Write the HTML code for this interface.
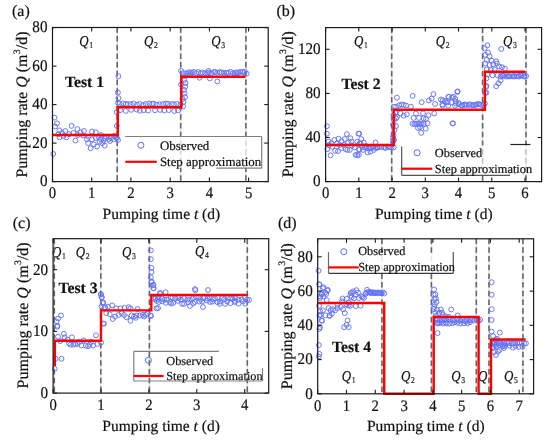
<!DOCTYPE html>
<html><head><meta charset="utf-8"><style>
html,body{margin:0;padding:0;background:#fff;}
svg{display:block;}
text{font-family:"Liberation Serif", "Times New Roman", serif;fill:#111;stroke:#111;stroke-width:0.2px;text-rendering:geometricPrecision;}
.b{font-weight:bold;}
</style></head><body>
<svg width="550" height="445" viewBox="0 0 550 445"><text transform="translate(79.20,46.10) scale(0.86,1)" font-size="15"><tspan font-style="italic">Q</tspan><tspan font-size="9" dx="0.8" dy="2" fill="#333">1</tspan></text>
<text transform="translate(143.90,46.00) scale(0.86,1)" font-size="15"><tspan font-style="italic">Q</tspan><tspan font-size="9" dx="0.8" dy="2" fill="#333">2</tspan></text>
<text transform="translate(211.20,46.00) scale(0.86,1)" font-size="15"><tspan font-style="italic">Q</tspan><tspan font-size="9" dx="0.8" dy="2" fill="#333">3</tspan></text>
<text transform="translate(353.90,45.50) scale(0.86,1)" font-size="15"><tspan font-style="italic">Q</tspan><tspan font-size="9" dx="0.8" dy="2" fill="#333">1</tspan></text>
<text transform="translate(435.80,45.50) scale(0.86,1)" font-size="15"><tspan font-style="italic">Q</tspan><tspan font-size="9" dx="0.8" dy="2" fill="#333">2</tspan></text>
<text transform="translate(503.00,45.50) scale(0.86,1)" font-size="15"><tspan font-style="italic">Q</tspan><tspan font-size="9" dx="0.8" dy="2" fill="#333">3</tspan></text>
<text transform="translate(52.10,257.30) scale(0.86,1)" font-size="15"><tspan font-style="italic">Q</tspan><tspan font-size="9" dx="0.8" dy="2" fill="#333">1</tspan></text>
<text transform="translate(75.80,257.30) scale(0.86,1)" font-size="15"><tspan font-style="italic">Q</tspan><tspan font-size="9" dx="0.8" dy="2" fill="#333">2</tspan></text>
<text transform="translate(122.10,257.30) scale(0.86,1)" font-size="15"><tspan font-style="italic">Q</tspan><tspan font-size="9" dx="0.8" dy="2" fill="#333">3</tspan></text>
<text transform="translate(194.90,255.50) scale(0.86,1)" font-size="15"><tspan font-style="italic">Q</tspan><tspan font-size="9" dx="0.8" dy="2" fill="#333">4</tspan></text>
<text transform="translate(341.80,380.50) scale(0.86,1)" font-size="15"><tspan font-style="italic">Q</tspan><tspan font-size="9" dx="0.8" dy="2" fill="#333">1</tspan></text>
<text transform="translate(400.90,380.50) scale(0.86,1)" font-size="15"><tspan font-style="italic">Q</tspan><tspan font-size="9" dx="0.8" dy="2" fill="#333">2</tspan></text>
<text transform="translate(451.20,380.50) scale(0.86,1)" font-size="15"><tspan font-style="italic">Q</tspan><tspan font-size="9" dx="0.8" dy="2" fill="#333">3</tspan></text>
<text transform="translate(477.90,380.50) scale(0.86,1)" font-size="15"><tspan font-style="italic">Q</tspan><tspan font-size="9" dx="0.8" dy="2" fill="#333">4</tspan></text>
<text transform="translate(503.90,380.50) scale(0.86,1)" font-size="15"><tspan font-style="italic">Q</tspan><tspan font-size="9" dx="0.8" dy="2" fill="#333">5</tspan></text>
<line x1="117.2" y1="27.5" x2="117.2" y2="181.6" stroke="#e2e2e2" stroke-width="1.5"/>
<line x1="117.2" y1="27.5" x2="117.2" y2="181.6" stroke="#666" stroke-width="1.6" stroke-dasharray="5.5,3.2" stroke-dashoffset="-8.5"/>
<line x1="180.7" y1="27.5" x2="180.7" y2="181.6" stroke="#e2e2e2" stroke-width="1.5"/>
<line x1="180.7" y1="27.5" x2="180.7" y2="181.6" stroke="#666" stroke-width="1.6" stroke-dasharray="5.5,3.2" stroke-dashoffset="-8.5"/>
<line x1="245.9" y1="27.5" x2="245.9" y2="181.6" stroke="#e2e2e2" stroke-width="1.5"/>
<line x1="245.9" y1="27.5" x2="245.9" y2="181.6" stroke="#666" stroke-width="1.6" stroke-dasharray="5.5,3.2" stroke-dashoffset="-8.5"/>
<g fill="none" stroke="#6273f7" stroke-width="0.95"><circle cx="117" cy="138" r="2.45"/><circle cx="118" cy="140" r="2.45"/><circle cx="118.4" cy="76.2" r="2.45"/><circle cx="117.9" cy="92.5" r="2.45"/><circle cx="118.4" cy="98.1" r="2.45"/><circle cx="117.9" cy="102.6" r="2.45"/><circle cx="116.7" cy="112.1" r="2.45"/><circle cx="119.7" cy="103.6" r="2.45"/><circle cx="123.1" cy="103.5" r="2.45"/><circle cx="125.8" cy="104.0" r="2.45"/><circle cx="127.9" cy="104.2" r="2.45"/><circle cx="130.7" cy="104.1" r="2.45"/><circle cx="133.6" cy="103.5" r="2.45"/><circle cx="137.0" cy="104.7" r="2.45"/><circle cx="139.4" cy="103.8" r="2.45"/><circle cx="143.1" cy="104.9" r="2.45"/><circle cx="145.8" cy="104.0" r="2.45"/><circle cx="149.3" cy="103.5" r="2.45"/><circle cx="152.0" cy="103.9" r="2.45"/><circle cx="153.7" cy="103.6" r="2.45"/><circle cx="156.8" cy="104.7" r="2.45"/><circle cx="159.5" cy="104.3" r="2.45"/><circle cx="163.1" cy="104.0" r="2.45"/><circle cx="165.8" cy="103.5" r="2.45"/><circle cx="167.9" cy="103.7" r="2.45"/><circle cx="171.7" cy="104.1" r="2.45"/><circle cx="174.0" cy="104.3" r="2.45"/><circle cx="177.1" cy="103.9" r="2.45"/><circle cx="180.5" cy="104.5" r="2.45"/><circle cx="120.2" cy="110.3" r="2.45"/><circle cx="125.8" cy="110.9" r="2.45"/><circle cx="131.2" cy="109.8" r="2.45"/><circle cx="136.7" cy="109.5" r="2.45"/><circle cx="139.8" cy="110.7" r="2.45"/><circle cx="143.7" cy="110.2" r="2.45"/><circle cx="148.1" cy="110.5" r="2.45"/><circle cx="155.0" cy="110.3" r="2.45"/><circle cx="160.1" cy="109.9" r="2.45"/><circle cx="164.3" cy="110.4" r="2.45"/><circle cx="168.7" cy="110.1" r="2.45"/><circle cx="174.3" cy="111.0" r="2.45"/><circle cx="177.9" cy="110.5" r="2.45"/><circle cx="181.1" cy="70.9" r="2.45"/><circle cx="184.5" cy="79.8" r="2.45"/><circle cx="185.2" cy="86.6" r="2.45"/><circle cx="184.5" cy="93.4" r="2.45"/><circle cx="182.5" cy="98.9" r="2.45"/><circle cx="183.2" cy="106.4" r="2.45"/><circle cx="181" cy="84.5" r="2.45"/><circle cx="183.5" cy="73.0" r="2.45"/><circle cx="186.3" cy="73.5" r="2.45"/><circle cx="188.6" cy="72.2" r="2.45"/><circle cx="190.2" cy="72.9" r="2.45"/><circle cx="191.8" cy="72.5" r="2.45"/><circle cx="194.1" cy="71.9" r="2.45"/><circle cx="196.1" cy="73.1" r="2.45"/><circle cx="198.3" cy="72.1" r="2.45"/><circle cx="200.7" cy="73.3" r="2.45"/><circle cx="202.4" cy="72.5" r="2.45"/><circle cx="205.1" cy="73.3" r="2.45"/><circle cx="207.5" cy="73.3" r="2.45"/><circle cx="209.0" cy="72.4" r="2.45"/><circle cx="211.2" cy="73.3" r="2.45"/><circle cx="214.0" cy="72.0" r="2.45"/><circle cx="215.2" cy="72.1" r="2.45"/><circle cx="217.3" cy="72.6" r="2.45"/><circle cx="219.9" cy="72.2" r="2.45"/><circle cx="221.3" cy="72.5" r="2.45"/><circle cx="223.8" cy="72.7" r="2.45"/><circle cx="226.6" cy="72.9" r="2.45"/><circle cx="228.2" cy="72.8" r="2.45"/><circle cx="230.5" cy="71.8" r="2.45"/><circle cx="232.9" cy="73.1" r="2.45"/><circle cx="234.9" cy="73.1" r="2.45"/><circle cx="236.5" cy="72.4" r="2.45"/><circle cx="238.2" cy="72.8" r="2.45"/><circle cx="240.3" cy="71.8" r="2.45"/><circle cx="242.5" cy="72.0" r="2.45"/><circle cx="244.8" cy="71.8" r="2.45"/><circle cx="199.5" cy="77.7" r="2.45"/><circle cx="209.8" cy="78.4" r="2.45"/><circle cx="217.3" cy="81.5" r="2.45"/><circle cx="208.4" cy="70.9" r="2.45"/><circle cx="246.6" cy="73.6" r="2.45"/><circle cx="190" cy="75" r="2.45"/><circle cx="225" cy="75.5" r="2.45"/><circle cx="235" cy="75" r="2.45"/><circle cx="241" cy="74.5" r="2.45"/><circle cx="54.5" cy="117.6" r="2.45"/><circle cx="57" cy="123.4" r="2.45"/><circle cx="55.1" cy="126.5" r="2.45"/><circle cx="59.5" cy="130.4" r="2.45"/><circle cx="58.3" cy="134.2" r="2.45"/><circle cx="59.5" cy="137.4" r="2.45"/><circle cx="65.3" cy="131" r="2.45"/><circle cx="66.5" cy="137.4" r="2.45"/><circle cx="71.6" cy="125.9" r="2.45"/><circle cx="69.1" cy="134.2" r="2.45"/><circle cx="75.5" cy="140.5" r="2.45"/><circle cx="77.4" cy="129.1" r="2.45"/><circle cx="80.5" cy="132.3" r="2.45"/><circle cx="73.5" cy="132.9" r="2.45"/><circle cx="83.1" cy="135.5" r="2.45"/><circle cx="86.9" cy="139.3" r="2.45"/><circle cx="88.2" cy="143.1" r="2.45"/><circle cx="92" cy="131.6" r="2.45"/><circle cx="95.8" cy="132.3" r="2.45"/><circle cx="90.7" cy="148.2" r="2.45"/><circle cx="93.9" cy="144.4" r="2.45"/><circle cx="95.8" cy="138" r="2.45"/><circle cx="98.4" cy="136.7" r="2.45"/><circle cx="100.9" cy="139.3" r="2.45"/><circle cx="103.5" cy="140.5" r="2.45"/><circle cx="104.7" cy="145.6" r="2.45"/><circle cx="106" cy="136.7" r="2.45"/><circle cx="108.5" cy="139.3" r="2.45"/><circle cx="111.1" cy="138" r="2.45"/><circle cx="113.6" cy="139.3" r="2.45"/><circle cx="116.2" cy="137.4" r="2.45"/><circle cx="99.6" cy="141.8" r="2.45"/><circle cx="102.2" cy="143.1" r="2.45"/><circle cx="88.2" cy="136.7" r="2.45"/><circle cx="92" cy="139.3" r="2.45"/><circle cx="53.2" cy="153.9" r="2.45"/><circle cx="116.8" cy="125.9" r="2.45"/><circle cx="62" cy="133" r="2.45"/><circle cx="63.5" cy="136" r="2.45"/><circle cx="78" cy="135" r="2.45"/><circle cx="84" cy="131" r="2.45"/><circle cx="97" cy="146.5" r="2.45"/><circle cx="110" cy="141" r="2.45"/><circle cx="114" cy="136" r="2.45"/><circle cx="105" cy="138.5" r="2.45"/><circle cx="101" cy="135" r="2.45"/><circle cx="184" cy="90" r="2.45"/><circle cx="185" cy="97" r="2.45"/><circle cx="183.5" cy="102" r="2.45"/><circle cx="185.5" cy="83" r="2.45"/><circle cx="184.8" cy="76" r="2.45"/></g>
<path d="M52.5,135.0 L117.8,135.0 L117.8,107.3 L181.3,107.3 L181.3,76.7 L245.5,76.7" fill="none" stroke="#f00" stroke-width="2.4"/>
<rect x="52.5" y="27.5" width="215.7" height="154.1" fill="none" stroke="#1a1a1a" stroke-width="1.2"/>
<line x1="52.5" y1="181.6" x2="52.5" y2="177.6" stroke="#1a1a1a" stroke-width="1.1"/>
<line x1="52.5" y1="27.5" x2="52.5" y2="31.5" stroke="#1a1a1a" stroke-width="1.1"/>
<text transform="translate(52.50,198.40) scale(0.92,1)" text-anchor="middle" font-size="16">0</text>
<line x1="91.7" y1="181.6" x2="91.7" y2="177.6" stroke="#1a1a1a" stroke-width="1.1"/>
<line x1="91.7" y1="27.5" x2="91.7" y2="31.5" stroke="#1a1a1a" stroke-width="1.1"/>
<text transform="translate(91.72,198.40) scale(0.92,1)" text-anchor="middle" font-size="16">1</text>
<line x1="130.9" y1="181.6" x2="130.9" y2="177.6" stroke="#1a1a1a" stroke-width="1.1"/>
<line x1="130.9" y1="27.5" x2="130.9" y2="31.5" stroke="#1a1a1a" stroke-width="1.1"/>
<text transform="translate(130.94,198.40) scale(0.92,1)" text-anchor="middle" font-size="16">2</text>
<line x1="170.2" y1="181.6" x2="170.2" y2="177.6" stroke="#1a1a1a" stroke-width="1.1"/>
<line x1="170.2" y1="27.5" x2="170.2" y2="31.5" stroke="#1a1a1a" stroke-width="1.1"/>
<text transform="translate(170.16,198.40) scale(0.92,1)" text-anchor="middle" font-size="16">3</text>
<line x1="209.4" y1="181.6" x2="209.4" y2="177.6" stroke="#1a1a1a" stroke-width="1.1"/>
<line x1="209.4" y1="27.5" x2="209.4" y2="31.5" stroke="#1a1a1a" stroke-width="1.1"/>
<text transform="translate(209.38,198.40) scale(0.92,1)" text-anchor="middle" font-size="16">4</text>
<line x1="248.6" y1="181.6" x2="248.6" y2="177.6" stroke="#1a1a1a" stroke-width="1.1"/>
<line x1="248.6" y1="27.5" x2="248.6" y2="31.5" stroke="#1a1a1a" stroke-width="1.1"/>
<text transform="translate(248.60,198.40) scale(0.92,1)" text-anchor="middle" font-size="16">5</text>
<line x1="52.5" y1="181.6" x2="56.5" y2="181.6" stroke="#1a1a1a" stroke-width="1.1"/>
<line x1="268.2" y1="181.6" x2="264.2" y2="181.6" stroke="#1a1a1a" stroke-width="1.1"/>
<text transform="translate(47.50,186.40) scale(0.93,1)" text-anchor="end" font-size="16.3">0</text>
<line x1="52.5" y1="143.1" x2="56.5" y2="143.1" stroke="#1a1a1a" stroke-width="1.1"/>
<line x1="268.2" y1="143.1" x2="264.2" y2="143.1" stroke="#1a1a1a" stroke-width="1.1"/>
<text transform="translate(47.50,147.90) scale(0.93,1)" text-anchor="end" font-size="16.3">20</text>
<line x1="52.5" y1="104.6" x2="56.5" y2="104.6" stroke="#1a1a1a" stroke-width="1.1"/>
<line x1="268.2" y1="104.6" x2="264.2" y2="104.6" stroke="#1a1a1a" stroke-width="1.1"/>
<text transform="translate(47.50,109.40) scale(0.93,1)" text-anchor="end" font-size="16.3">40</text>
<line x1="52.5" y1="66.1" x2="56.5" y2="66.1" stroke="#1a1a1a" stroke-width="1.1"/>
<line x1="268.2" y1="66.1" x2="264.2" y2="66.1" stroke="#1a1a1a" stroke-width="1.1"/>
<text transform="translate(47.50,70.90) scale(0.93,1)" text-anchor="end" font-size="16.3">60</text>
<line x1="52.5" y1="27.6" x2="56.5" y2="27.6" stroke="#1a1a1a" stroke-width="1.1"/>
<line x1="268.2" y1="27.6" x2="264.2" y2="27.6" stroke="#1a1a1a" stroke-width="1.1"/>
<text transform="translate(47.50,32.40) scale(0.93,1)" text-anchor="end" font-size="16.3">80</text>
<text transform="translate(12.00,16.30)" font-size="16">(a)</text>
<line x1="391.7" y1="27.6" x2="391.7" y2="181.6" stroke="#e2e2e2" stroke-width="1.5"/>
<line x1="391.7" y1="27.6" x2="391.7" y2="181.6" stroke="#666" stroke-width="1.6" stroke-dasharray="5.5,3.2" stroke-dashoffset="-8.5"/>
<line x1="482.6" y1="27.6" x2="482.6" y2="181.6" stroke="#e2e2e2" stroke-width="1.5"/>
<line x1="482.6" y1="27.6" x2="482.6" y2="181.6" stroke="#666" stroke-width="1.6" stroke-dasharray="5.5,3.2" stroke-dashoffset="-8.5"/>
<line x1="526.0" y1="27.6" x2="526.0" y2="181.6" stroke="#e2e2e2" stroke-width="1.5"/>
<line x1="526.0" y1="27.6" x2="526.0" y2="181.6" stroke="#666" stroke-width="1.6" stroke-dasharray="5.5,3.2" stroke-dashoffset="-8.5"/>
<g fill="none" stroke="#6273f7" stroke-width="0.95"><circle cx="326.9" cy="126.2" r="2.45"/><circle cx="326.9" cy="133.7" r="2.45"/><circle cx="328.6" cy="141.6" r="2.45"/><circle cx="327.3" cy="149.1" r="2.45"/><circle cx="330.6" cy="155.3" r="2.45"/><circle cx="335.2" cy="150.8" r="2.45"/><circle cx="334.4" cy="140" r="2.45"/><circle cx="332.3" cy="146.6" r="2.45"/><circle cx="338.5" cy="138.7" r="2.45"/><circle cx="341.5" cy="141.2" r="2.45"/><circle cx="336.9" cy="143.7" r="2.45"/><circle cx="346.9" cy="134.1" r="2.45"/><circle cx="344.8" cy="139.1" r="2.45"/><circle cx="350.6" cy="138.3" r="2.45"/><circle cx="348.1" cy="142.5" r="2.45"/><circle cx="351.4" cy="141.6" r="2.45"/><circle cx="347.3" cy="149.9" r="2.45"/><circle cx="349.8" cy="149.9" r="2.45"/><circle cx="345.6" cy="149.1" r="2.45"/><circle cx="354.8" cy="147.4" r="2.45"/><circle cx="355.6" cy="154.9" r="2.45"/><circle cx="357.3" cy="155.3" r="2.45"/><circle cx="358.5" cy="133.7" r="2.45"/><circle cx="357.3" cy="141.6" r="2.45"/><circle cx="358.9" cy="149.1" r="2.45"/><circle cx="360.6" cy="143.3" r="2.45"/><circle cx="343.9" cy="145" r="2.45"/><circle cx="339.8" cy="145" r="2.45"/><circle cx="329" cy="145" r="2.45"/><circle cx="331.5" cy="143.3" r="2.45"/><circle cx="341" cy="148" r="2.45"/><circle cx="352" cy="145.5" r="2.45"/><circle cx="338" cy="151" r="2.45"/><circle cx="359.2" cy="133.7" r="2.45"/><circle cx="361.3" cy="139.1" r="2.45"/><circle cx="363.8" cy="142.5" r="2.45"/><circle cx="359.7" cy="143.3" r="2.45"/><circle cx="359.2" cy="149.9" r="2.45"/><circle cx="358.8" cy="154.9" r="2.45"/><circle cx="363" cy="149.9" r="2.45"/><circle cx="367.6" cy="152.4" r="2.45"/><circle cx="370.5" cy="151.6" r="2.45"/><circle cx="373.8" cy="149.9" r="2.45"/><circle cx="375.5" cy="142.5" r="2.45"/><circle cx="377.1" cy="147.4" r="2.45"/><circle cx="391.3" cy="147.4" r="2.45"/><circle cx="392.9" cy="137.5" r="2.45"/><circle cx="392.9" cy="141.6" r="2.45"/><circle cx="393.7" cy="147.4" r="2.45"/><circle cx="366" cy="146" r="2.45"/><circle cx="369" cy="148.5" r="2.45"/><circle cx="362.4" cy="147.1" r="2.45"/><circle cx="364.6" cy="147.3" r="2.45"/><circle cx="366.6" cy="147.9" r="2.45"/><circle cx="369.4" cy="147.1" r="2.45"/><circle cx="371.0" cy="147.3" r="2.45"/><circle cx="373.2" cy="147.0" r="2.45"/><circle cx="375.9" cy="148.1" r="2.45"/><circle cx="377.5" cy="147.5" r="2.45"/><circle cx="379.1" cy="147.0" r="2.45"/><circle cx="381.5" cy="147.2" r="2.45"/><circle cx="384.2" cy="147.1" r="2.45"/><circle cx="385.3" cy="148.0" r="2.45"/><circle cx="388.0" cy="147.1" r="2.45"/><circle cx="390.1" cy="146.9" r="2.45"/><circle cx="433.4" cy="94.1" r="2.45"/><circle cx="440.9" cy="99.5" r="2.45"/><circle cx="445" cy="100.9" r="2.45"/><circle cx="448.4" cy="96.8" r="2.45"/><circle cx="451.8" cy="97.5" r="2.45"/><circle cx="455.2" cy="98.9" r="2.45"/><circle cx="457.3" cy="92" r="2.45"/><circle cx="455.9" cy="103.6" r="2.45"/><circle cx="458.6" cy="103" r="2.45"/><circle cx="452.5" cy="123.4" r="2.45"/><circle cx="447.7" cy="102.3" r="2.45"/><circle cx="442.3" cy="104.3" r="2.45"/><circle cx="393.5" cy="140" r="2.45"/><circle cx="457.7" cy="91.4" r="2.45"/><circle cx="448.9" cy="96.8" r="2.45"/><circle cx="453.6" cy="96.8" r="2.45"/><circle cx="442.7" cy="100.2" r="2.45"/><circle cx="446.1" cy="102.3" r="2.45"/><circle cx="451.6" cy="102.3" r="2.45"/><circle cx="455.7" cy="101.6" r="2.45"/><circle cx="459.1" cy="104.3" r="2.45"/><circle cx="442.7" cy="105.7" r="2.45"/><circle cx="448.2" cy="105.7" r="2.45"/><circle cx="455" cy="105.7" r="2.45"/><circle cx="461.8" cy="105.7" r="2.45"/><circle cx="453" cy="123.4" r="2.45"/><circle cx="462.0" cy="105.2" r="2.45"/><circle cx="464.1" cy="104.8" r="2.45"/><circle cx="464.9" cy="104.4" r="2.45"/><circle cx="466.4" cy="104.9" r="2.45"/><circle cx="468.5" cy="104.9" r="2.45"/><circle cx="469.9" cy="104.3" r="2.45"/><circle cx="472.1" cy="105.2" r="2.45"/><circle cx="473.7" cy="105.0" r="2.45"/><circle cx="475.3" cy="104.9" r="2.45"/><circle cx="476.2" cy="104.6" r="2.45"/><circle cx="478.0" cy="104.0" r="2.45"/><circle cx="479.2" cy="104.3" r="2.45"/><circle cx="481.1" cy="104.8" r="2.45"/><circle cx="483.5" cy="104.5" r="2.45"/><circle cx="486.4" cy="78.4" r="2.45"/><circle cx="486.4" cy="85.9" r="2.45"/><circle cx="486.4" cy="92.7" r="2.45"/><circle cx="485" cy="103.6" r="2.45"/><circle cx="487.4" cy="45.3" r="2.45"/><circle cx="484.5" cy="48.2" r="2.45"/><circle cx="501.3" cy="49" r="2.45"/><circle cx="488.1" cy="52.6" r="2.45"/><circle cx="485.2" cy="54.8" r="2.45"/><circle cx="489.6" cy="56.3" r="2.45"/><circle cx="486.7" cy="59.9" r="2.45"/><circle cx="491.8" cy="60.7" r="2.45"/><circle cx="496.2" cy="61.4" r="2.45"/><circle cx="485.2" cy="63.6" r="2.45"/><circle cx="489.6" cy="65" r="2.45"/><circle cx="493.2" cy="64.3" r="2.45"/><circle cx="496.9" cy="63.6" r="2.45"/><circle cx="499.1" cy="66.5" r="2.45"/><circle cx="502" cy="67.2" r="2.45"/><circle cx="504.9" cy="68.7" r="2.45"/><circle cx="486.7" cy="69.4" r="2.45"/><circle cx="491" cy="70.1" r="2.45"/><circle cx="494.7" cy="69.4" r="2.45"/><circle cx="487.4" cy="74.5" r="2.45"/><circle cx="492.5" cy="75.3" r="2.45"/><circle cx="497.6" cy="75.3" r="2.45"/><circle cx="526.1" cy="76" r="2.45"/><circle cx="500.5" cy="80.4" r="2.45"/><circle cx="498.4" cy="83.3" r="2.45"/><circle cx="496.2" cy="86.2" r="2.45"/><circle cx="486" cy="86.9" r="2.45"/><circle cx="485.2" cy="92.8" r="2.45"/><circle cx="500.5" cy="76.7" r="2.45"/><circle cx="502.0" cy="75.8" r="2.45"/><circle cx="502.6" cy="75.6" r="2.45"/><circle cx="504.0" cy="75.6" r="2.45"/><circle cx="506.0" cy="76.6" r="2.45"/><circle cx="507.8" cy="76.0" r="2.45"/><circle cx="509.0" cy="76.4" r="2.45"/><circle cx="509.8" cy="76.2" r="2.45"/><circle cx="512.3" cy="76.4" r="2.45"/><circle cx="513.5" cy="76.0" r="2.45"/><circle cx="514.3" cy="76.4" r="2.45"/><circle cx="516.0" cy="76.4" r="2.45"/><circle cx="518.2" cy="75.9" r="2.45"/><circle cx="519.0" cy="76.6" r="2.45"/><circle cx="520.9" cy="75.5" r="2.45"/><circle cx="521.6" cy="75.5" r="2.45"/><circle cx="524.0" cy="76.4" r="2.45"/><circle cx="524.6" cy="76.5" r="2.45"/><circle cx="396.9" cy="97.7" r="2.45"/><circle cx="412.7" cy="95.9" r="2.45"/><circle cx="421.7" cy="102.2" r="2.45"/><circle cx="396" cy="106.7" r="2.45"/><circle cx="399.2" cy="105.3" r="2.45"/><circle cx="403.7" cy="104.9" r="2.45"/><circle cx="410.9" cy="106.7" r="2.45"/><circle cx="403.7" cy="115.7" r="2.45"/><circle cx="400.5" cy="113.4" r="2.45"/><circle cx="406.8" cy="114.3" r="2.45"/><circle cx="413.6" cy="117.9" r="2.45"/><circle cx="419" cy="117.9" r="2.45"/><circle cx="423.5" cy="118.4" r="2.45"/><circle cx="427.5" cy="123.3" r="2.45"/><circle cx="428.4" cy="115.2" r="2.45"/><circle cx="423" cy="113.4" r="2.45"/><circle cx="425.7" cy="128.7" r="2.45"/><circle cx="421.2" cy="132.8" r="2.45"/><circle cx="434.2" cy="113.4" r="2.45"/><circle cx="395.6" cy="112.1" r="2.45"/><circle cx="396" cy="118.4" r="2.45"/><circle cx="396" cy="126" r="2.45"/><circle cx="393.8" cy="106.7" r="2.45"/><circle cx="428.9" cy="100.4" r="2.45"/><circle cx="431.6" cy="98.6" r="2.45"/><circle cx="435.1" cy="104" r="2.45"/><circle cx="401.5" cy="104.5" r="2.45"/><circle cx="406" cy="105.5" r="2.45"/><circle cx="412.6" cy="123.9" r="2.45"/><circle cx="414.4" cy="124.0" r="2.45"/><circle cx="416.1" cy="123.7" r="2.45"/><circle cx="418.2" cy="123.6" r="2.45"/><circle cx="419.9" cy="123.9" r="2.45"/><circle cx="421.5" cy="124.0" r="2.45"/><circle cx="423.7" cy="123.9" r="2.45"/><circle cx="418" cy="128" r="2.45"/><circle cx="420" cy="127" r="2.45"/><circle cx="416" cy="113.5" r="2.45"/><circle cx="426" cy="119" r="2.45"/><circle cx="393.5" cy="115" r="2.45"/><circle cx="394" cy="120" r="2.45"/><circle cx="393" cy="125" r="2.45"/><circle cx="394.5" cy="130" r="2.45"/><circle cx="393.5" cy="135" r="2.45"/><circle cx="394" cy="140" r="2.45"/><circle cx="395.5" cy="113" r="2.45"/><circle cx="397" cy="117" r="2.45"/></g>
<path d="M325.6,145.0 L393.7,145.0 L393.7,109.8 L484.9,109.8 L484.9,71.7 L525.0,71.7" fill="none" stroke="#f00" stroke-width="2.4"/>
<rect x="325.6" y="27.6" width="216.0" height="154.0" fill="none" stroke="#1a1a1a" stroke-width="1.2"/>
<line x1="325.6" y1="181.6" x2="325.6" y2="177.6" stroke="#1a1a1a" stroke-width="1.1"/>
<line x1="325.6" y1="27.6" x2="325.6" y2="31.6" stroke="#1a1a1a" stroke-width="1.1"/>
<text transform="translate(325.60,198.40) scale(0.92,1)" text-anchor="middle" font-size="16">0</text>
<line x1="358.8" y1="181.6" x2="358.8" y2="177.6" stroke="#1a1a1a" stroke-width="1.1"/>
<line x1="358.8" y1="27.6" x2="358.8" y2="31.6" stroke="#1a1a1a" stroke-width="1.1"/>
<text transform="translate(358.83,198.40) scale(0.92,1)" text-anchor="middle" font-size="16">1</text>
<line x1="392.1" y1="181.6" x2="392.1" y2="177.6" stroke="#1a1a1a" stroke-width="1.1"/>
<line x1="392.1" y1="27.6" x2="392.1" y2="31.6" stroke="#1a1a1a" stroke-width="1.1"/>
<text transform="translate(392.06,198.40) scale(0.92,1)" text-anchor="middle" font-size="16">2</text>
<line x1="425.3" y1="181.6" x2="425.3" y2="177.6" stroke="#1a1a1a" stroke-width="1.1"/>
<line x1="425.3" y1="27.6" x2="425.3" y2="31.6" stroke="#1a1a1a" stroke-width="1.1"/>
<text transform="translate(425.29,198.40) scale(0.92,1)" text-anchor="middle" font-size="16">3</text>
<line x1="458.5" y1="181.6" x2="458.5" y2="177.6" stroke="#1a1a1a" stroke-width="1.1"/>
<line x1="458.5" y1="27.6" x2="458.5" y2="31.6" stroke="#1a1a1a" stroke-width="1.1"/>
<text transform="translate(458.52,198.40) scale(0.92,1)" text-anchor="middle" font-size="16">4</text>
<line x1="491.8" y1="181.6" x2="491.8" y2="177.6" stroke="#1a1a1a" stroke-width="1.1"/>
<line x1="491.8" y1="27.6" x2="491.8" y2="31.6" stroke="#1a1a1a" stroke-width="1.1"/>
<text transform="translate(491.75,198.40) scale(0.92,1)" text-anchor="middle" font-size="16">5</text>
<line x1="525.0" y1="181.6" x2="525.0" y2="177.6" stroke="#1a1a1a" stroke-width="1.1"/>
<line x1="525.0" y1="27.6" x2="525.0" y2="31.6" stroke="#1a1a1a" stroke-width="1.1"/>
<text transform="translate(524.98,198.40) scale(0.92,1)" text-anchor="middle" font-size="16">6</text>
<line x1="325.6" y1="181.6" x2="329.6" y2="181.6" stroke="#1a1a1a" stroke-width="1.1"/>
<line x1="541.6" y1="181.6" x2="537.6" y2="181.6" stroke="#1a1a1a" stroke-width="1.1"/>
<text transform="translate(320.60,186.40) scale(0.93,1)" text-anchor="end" font-size="16.3">0</text>
<line x1="325.6" y1="137.5" x2="329.6" y2="137.5" stroke="#1a1a1a" stroke-width="1.1"/>
<line x1="541.6" y1="137.5" x2="537.6" y2="137.5" stroke="#1a1a1a" stroke-width="1.1"/>
<text transform="translate(320.60,142.30) scale(0.93,1)" text-anchor="end" font-size="16.3">40</text>
<line x1="325.6" y1="93.4" x2="329.6" y2="93.4" stroke="#1a1a1a" stroke-width="1.1"/>
<line x1="541.6" y1="93.4" x2="537.6" y2="93.4" stroke="#1a1a1a" stroke-width="1.1"/>
<text transform="translate(320.60,98.20) scale(0.93,1)" text-anchor="end" font-size="16.3">80</text>
<line x1="325.6" y1="49.3" x2="329.6" y2="49.3" stroke="#1a1a1a" stroke-width="1.1"/>
<line x1="541.6" y1="49.3" x2="537.6" y2="49.3" stroke="#1a1a1a" stroke-width="1.1"/>
<text transform="translate(320.60,54.10) scale(0.93,1)" text-anchor="end" font-size="16.3">120</text>
<text transform="translate(276.40,16.00)" font-size="16">(b)</text>
<line x1="54.3" y1="238.7" x2="54.3" y2="393.1" stroke="#e2e2e2" stroke-width="1.5"/>
<line x1="54.3" y1="238.7" x2="54.3" y2="393.1" stroke="#666" stroke-width="1.6" stroke-dasharray="5.5,3.2" stroke-dashoffset="-8.5"/>
<line x1="100.8" y1="238.7" x2="100.8" y2="393.1" stroke="#e2e2e2" stroke-width="1.5"/>
<line x1="100.8" y1="238.7" x2="100.8" y2="393.1" stroke="#666" stroke-width="1.6" stroke-dasharray="5.5,3.2" stroke-dashoffset="-8.5"/>
<line x1="149.4" y1="238.7" x2="149.4" y2="393.1" stroke="#e2e2e2" stroke-width="1.5"/>
<line x1="149.4" y1="238.7" x2="149.4" y2="393.1" stroke="#666" stroke-width="1.6" stroke-dasharray="5.5,3.2" stroke-dashoffset="-8.5"/>
<line x1="247.3" y1="238.7" x2="247.3" y2="393.1" stroke="#e2e2e2" stroke-width="1.5"/>
<line x1="247.3" y1="238.7" x2="247.3" y2="393.1" stroke="#666" stroke-width="1.6" stroke-dasharray="5.5,3.2" stroke-dashoffset="-8.5"/>
<g fill="none" stroke="#6273f7" stroke-width="0.95"><circle cx="61" cy="315.5" r="2.45"/><circle cx="58" cy="318.5" r="2.45"/><circle cx="56.6" cy="321.4" r="2.45"/><circle cx="57.3" cy="325.8" r="2.45"/><circle cx="58" cy="336.7" r="2.45"/><circle cx="63.9" cy="333.8" r="2.45"/><circle cx="60.2" cy="341.1" r="2.45"/><circle cx="64.6" cy="337.4" r="2.45"/><circle cx="67.5" cy="339.6" r="2.45"/><circle cx="71.9" cy="337.4" r="2.45"/><circle cx="69" cy="343.3" r="2.45"/><circle cx="73.4" cy="344.7" r="2.45"/><circle cx="77.7" cy="344" r="2.45"/><circle cx="81.4" cy="345.5" r="2.45"/><circle cx="83.6" cy="340.4" r="2.45"/><circle cx="85.8" cy="345.5" r="2.45"/><circle cx="89.4" cy="344.7" r="2.45"/><circle cx="93.1" cy="345.5" r="2.45"/><circle cx="96" cy="335.3" r="2.45"/><circle cx="97.4" cy="344" r="2.45"/><circle cx="101.1" cy="342.6" r="2.45"/><circle cx="70.4" cy="344.7" r="2.45"/><circle cx="75.5" cy="344" r="2.45"/><circle cx="88" cy="346.2" r="2.45"/><circle cx="79" cy="342" r="2.45"/><circle cx="91" cy="342" r="2.45"/><circle cx="61.5" cy="358.8" r="2.45"/><circle cx="55.6" cy="358.8" r="2.45"/><circle cx="54.7" cy="368.9" r="2.45"/><circle cx="57.3" cy="326.7" r="2.45"/><circle cx="101.1" cy="294.4" r="2.45"/><circle cx="101.8" cy="297.3" r="2.45"/><circle cx="102.6" cy="303.1" r="2.45"/><circle cx="103.3" cy="323.6" r="2.45"/><circle cx="104.7" cy="307.5" r="2.45"/><circle cx="100.9" cy="294.2" r="2.45"/><circle cx="101.5" cy="297.1" r="2.45"/><circle cx="103.3" cy="302.5" r="2.45"/><circle cx="101.5" cy="306.6" r="2.45"/><circle cx="105" cy="307.2" r="2.45"/><circle cx="108" cy="306.6" r="2.45"/><circle cx="112.1" cy="305.4" r="2.45"/><circle cx="116.3" cy="308.4" r="2.45"/><circle cx="120.4" cy="308.4" r="2.45"/><circle cx="124.6" cy="307.8" r="2.45"/><circle cx="128.7" cy="307.2" r="2.45"/><circle cx="130.5" cy="308.4" r="2.45"/><circle cx="137.6" cy="309" r="2.45"/><circle cx="106.2" cy="313.1" r="2.45"/><circle cx="109.8" cy="314.3" r="2.45"/><circle cx="112.7" cy="319" r="2.45"/><circle cx="115.1" cy="316.6" r="2.45"/><circle cx="118.6" cy="314.9" r="2.45"/><circle cx="121.6" cy="313.1" r="2.45"/><circle cx="126.3" cy="317.2" r="2.45"/><circle cx="130.5" cy="320.8" r="2.45"/><circle cx="131.6" cy="315.5" r="2.45"/><circle cx="134" cy="316.6" r="2.45"/><circle cx="136.4" cy="315.5" r="2.45"/><circle cx="139.9" cy="315.5" r="2.45"/><circle cx="142.9" cy="314.9" r="2.45"/><circle cx="145.8" cy="314.9" r="2.45"/><circle cx="150.6" cy="315.5" r="2.45"/><circle cx="103.9" cy="323.7" r="2.45"/><circle cx="135.8" cy="317.8" r="2.45"/><circle cx="147.5" cy="313.5" r="2.45"/><circle cx="144" cy="316.5" r="2.45"/><circle cx="124" cy="315" r="2.45"/><circle cx="151.7" cy="282.4" r="2.45"/><circle cx="152.9" cy="285.3" r="2.45"/><circle cx="153.5" cy="288.3" r="2.45"/><circle cx="157.6" cy="298.9" r="2.45"/><circle cx="156.5" cy="308.4" r="2.45"/><circle cx="150.8" cy="250.4" r="2.45"/><circle cx="150.8" cy="259.2" r="2.45"/><circle cx="151.5" cy="267.9" r="2.45"/><circle cx="151.5" cy="272" r="2.45"/><circle cx="150.8" cy="277.4" r="2.45"/><circle cx="151.5" cy="281.4" r="2.45"/><circle cx="153.5" cy="284.8" r="2.45"/><circle cx="153.5" cy="288.1" r="2.45"/><circle cx="160.2" cy="292.9" r="2.45"/><circle cx="165.6" cy="292.2" r="2.45"/><circle cx="195.3" cy="290.2" r="2.45"/><circle cx="153.8" cy="298.8" r="2.45"/><circle cx="155.6" cy="298.5" r="2.45"/><circle cx="158.1" cy="296.7" r="2.45"/><circle cx="162.3" cy="298.8" r="2.45"/><circle cx="164.4" cy="299.7" r="2.45"/><circle cx="167.1" cy="299.5" r="2.45"/><circle cx="170.6" cy="297.4" r="2.45"/><circle cx="172.5" cy="297.6" r="2.45"/><circle cx="175.4" cy="298.6" r="2.45"/><circle cx="178.3" cy="298.0" r="2.45"/><circle cx="180.9" cy="299.6" r="2.45"/><circle cx="184.1" cy="298.2" r="2.45"/><circle cx="187.3" cy="299.6" r="2.45"/><circle cx="189.9" cy="299.6" r="2.45"/><circle cx="192.9" cy="298.4" r="2.45"/><circle cx="195.8" cy="296.8" r="2.45"/><circle cx="198.5" cy="297.3" r="2.45"/><circle cx="200.6" cy="299.3" r="2.45"/><circle cx="203.7" cy="298.2" r="2.45"/><circle cx="207.5" cy="298.5" r="2.45"/><circle cx="209.7" cy="298.4" r="2.45"/><circle cx="212.9" cy="299.2" r="2.45"/><circle cx="215.0" cy="298.5" r="2.45"/><circle cx="218.1" cy="297.6" r="2.45"/><circle cx="221.8" cy="298.3" r="2.45"/><circle cx="224.3" cy="299.1" r="2.45"/><circle cx="227.7" cy="298.1" r="2.45"/><circle cx="230.1" cy="298.3" r="2.45"/><circle cx="232.8" cy="298.9" r="2.45"/><circle cx="235.5" cy="298.4" r="2.45"/><circle cx="238.4" cy="299.7" r="2.45"/><circle cx="241.6" cy="299.5" r="2.45"/><circle cx="244.9" cy="297.5" r="2.45"/><circle cx="247.1" cy="299.7" r="2.45"/><circle cx="156.8" cy="300.9" r="2.45"/><circle cx="158.7" cy="302.0" r="2.45"/><circle cx="162.2" cy="301.3" r="2.45"/><circle cx="165.8" cy="302.8" r="2.45"/><circle cx="171.1" cy="303.6" r="2.45"/><circle cx="173.2" cy="303.0" r="2.45"/><circle cx="178.0" cy="300.9" r="2.45"/><circle cx="182.1" cy="303.9" r="2.45"/><circle cx="184.1" cy="303.8" r="2.45"/><circle cx="188.2" cy="302.2" r="2.45"/><circle cx="193.2" cy="303.4" r="2.45"/><circle cx="194.8" cy="302.0" r="2.45"/><circle cx="199.2" cy="301.6" r="2.45"/><circle cx="202.1" cy="301.5" r="2.45"/><circle cx="206.9" cy="300.5" r="2.45"/><circle cx="210.1" cy="302.0" r="2.45"/><circle cx="212.4" cy="301.6" r="2.45"/><circle cx="217.5" cy="302.2" r="2.45"/><circle cx="219.8" cy="303.9" r="2.45"/><circle cx="225.1" cy="303.9" r="2.45"/><circle cx="227.1" cy="301.4" r="2.45"/><circle cx="230.5" cy="303.2" r="2.45"/><circle cx="234.6" cy="300.9" r="2.45"/><circle cx="238.6" cy="303.7" r="2.45"/><circle cx="243.2" cy="301.3" r="2.45"/><circle cx="245.2" cy="303.7" r="2.45"/><circle cx="195" cy="289" r="2.45"/><circle cx="208" cy="290" r="2.45"/><circle cx="160" cy="294" r="2.45"/><circle cx="158" cy="308" r="2.45"/><circle cx="190" cy="306" r="2.45"/><circle cx="203" cy="307" r="2.45"/><circle cx="151" cy="316" r="2.45"/><circle cx="249" cy="300" r="2.45"/><circle cx="170" cy="302" r="2.45"/><circle cx="220" cy="301.5" r="2.45"/><circle cx="235" cy="302" r="2.45"/></g>
<path d="M53.1,364.7 L54.8,364.7 L54.8,340.7 L101.0,340.7 L101.0,310.4 L151.3,310.4 L151.3,295.0 L247.6,295.0" fill="none" stroke="#f00" stroke-width="2.4"/>
<rect x="53.1" y="238.7" width="215.6" height="154.4" fill="none" stroke="#1a1a1a" stroke-width="1.2"/>
<line x1="53.1" y1="393.1" x2="53.1" y2="389.1" stroke="#1a1a1a" stroke-width="1.1"/>
<line x1="53.1" y1="238.7" x2="53.1" y2="242.7" stroke="#1a1a1a" stroke-width="1.1"/>
<text transform="translate(53.10,409.90) scale(0.92,1)" text-anchor="middle" font-size="16">0</text>
<line x1="101.0" y1="393.1" x2="101.0" y2="389.1" stroke="#1a1a1a" stroke-width="1.1"/>
<line x1="101.0" y1="238.7" x2="101.0" y2="242.7" stroke="#1a1a1a" stroke-width="1.1"/>
<text transform="translate(101.00,409.90) scale(0.92,1)" text-anchor="middle" font-size="16">1</text>
<line x1="148.9" y1="393.1" x2="148.9" y2="389.1" stroke="#1a1a1a" stroke-width="1.1"/>
<line x1="148.9" y1="238.7" x2="148.9" y2="242.7" stroke="#1a1a1a" stroke-width="1.1"/>
<text transform="translate(148.90,409.90) scale(0.92,1)" text-anchor="middle" font-size="16">2</text>
<line x1="196.8" y1="393.1" x2="196.8" y2="389.1" stroke="#1a1a1a" stroke-width="1.1"/>
<line x1="196.8" y1="238.7" x2="196.8" y2="242.7" stroke="#1a1a1a" stroke-width="1.1"/>
<text transform="translate(196.80,409.90) scale(0.92,1)" text-anchor="middle" font-size="16">3</text>
<line x1="244.7" y1="393.1" x2="244.7" y2="389.1" stroke="#1a1a1a" stroke-width="1.1"/>
<line x1="244.7" y1="238.7" x2="244.7" y2="242.7" stroke="#1a1a1a" stroke-width="1.1"/>
<text transform="translate(244.70,409.90) scale(0.92,1)" text-anchor="middle" font-size="16">4</text>
<line x1="53.1" y1="393.1" x2="57.1" y2="393.1" stroke="#1a1a1a" stroke-width="1.1"/>
<line x1="268.7" y1="393.1" x2="264.7" y2="393.1" stroke="#1a1a1a" stroke-width="1.1"/>
<text transform="translate(48.10,397.90) scale(0.93,1)" text-anchor="end" font-size="16.3">0</text>
<line x1="53.1" y1="331.4" x2="57.1" y2="331.4" stroke="#1a1a1a" stroke-width="1.1"/>
<line x1="268.7" y1="331.4" x2="264.7" y2="331.4" stroke="#1a1a1a" stroke-width="1.1"/>
<text transform="translate(48.10,336.20) scale(0.93,1)" text-anchor="end" font-size="16.3">10</text>
<line x1="53.1" y1="269.7" x2="57.1" y2="269.7" stroke="#1a1a1a" stroke-width="1.1"/>
<line x1="268.7" y1="269.7" x2="264.7" y2="269.7" stroke="#1a1a1a" stroke-width="1.1"/>
<text transform="translate(48.10,274.50) scale(0.93,1)" text-anchor="end" font-size="16.3">20</text>
<text transform="translate(12.70,228.20)" font-size="16">(c)</text>
<line x1="381.9" y1="238.8" x2="381.9" y2="393.8" stroke="#e2e2e2" stroke-width="1.5"/>
<line x1="381.9" y1="238.8" x2="381.9" y2="393.8" stroke="#666" stroke-width="1.6" stroke-dasharray="5.5,3.2" stroke-dashoffset="-8.5"/>
<line x1="431.4" y1="238.8" x2="431.4" y2="393.8" stroke="#e2e2e2" stroke-width="1.5"/>
<line x1="431.4" y1="238.8" x2="431.4" y2="393.8" stroke="#666" stroke-width="1.6" stroke-dasharray="5.5,3.2" stroke-dashoffset="-8.5"/>
<line x1="476.3" y1="238.8" x2="476.3" y2="393.8" stroke="#e2e2e2" stroke-width="1.5"/>
<line x1="476.3" y1="238.8" x2="476.3" y2="393.8" stroke="#666" stroke-width="1.6" stroke-dasharray="5.5,3.2" stroke-dashoffset="-8.5"/>
<line x1="489.0" y1="238.8" x2="489.0" y2="393.8" stroke="#e2e2e2" stroke-width="1.5"/>
<line x1="489.0" y1="238.8" x2="489.0" y2="393.8" stroke="#666" stroke-width="1.6" stroke-dasharray="5.5,3.2" stroke-dashoffset="-8.5"/>
<line x1="522.9" y1="238.8" x2="522.9" y2="393.8" stroke="#e2e2e2" stroke-width="1.5"/>
<line x1="522.9" y1="238.8" x2="522.9" y2="393.8" stroke="#666" stroke-width="1.6" stroke-dasharray="5.5,3.2" stroke-dashoffset="-8.5"/>
<g fill="none" stroke="#6273f7" stroke-width="0.95"><circle cx="319.5" cy="284.5" r="2.45"/><circle cx="322.9" cy="288.4" r="2.45"/><circle cx="327.4" cy="290.7" r="2.45"/><circle cx="326.2" cy="294" r="2.45"/><circle cx="321.7" cy="294.6" r="2.45"/><circle cx="320.1" cy="298" r="2.45"/><circle cx="323.4" cy="296.3" r="2.45"/><circle cx="326.8" cy="300.2" r="2.45"/><circle cx="342.5" cy="298.5" r="2.45"/><circle cx="342" cy="301.3" r="2.45"/><circle cx="350.4" cy="295.7" r="2.45"/><circle cx="352.1" cy="292.9" r="2.45"/><circle cx="348.7" cy="302.5" r="2.45"/><circle cx="328.5" cy="308.1" r="2.45"/><circle cx="330.7" cy="310.3" r="2.45"/><circle cx="333" cy="309.2" r="2.45"/><circle cx="335.2" cy="310.3" r="2.45"/><circle cx="337.5" cy="308.1" r="2.45"/><circle cx="340.8" cy="307" r="2.45"/><circle cx="343.1" cy="309.2" r="2.45"/><circle cx="322.9" cy="310.3" r="2.45"/><circle cx="320.6" cy="314.8" r="2.45"/><circle cx="321.7" cy="320.4" r="2.45"/><circle cx="329.6" cy="316" r="2.45"/><circle cx="331.9" cy="313.7" r="2.45"/><circle cx="344.8" cy="313.1" r="2.45"/><circle cx="347.6" cy="320.4" r="2.45"/><circle cx="346.5" cy="324.9" r="2.45"/><circle cx="344.2" cy="327.2" r="2.45"/><circle cx="348.7" cy="327.2" r="2.45"/><circle cx="320" cy="327.2" r="2.45"/><circle cx="319" cy="305.8" r="2.45"/><circle cx="337.5" cy="304.7" r="2.45"/><circle cx="346.5" cy="304.7" r="2.45"/><circle cx="350.7" cy="293" r="2.45"/><circle cx="353.2" cy="291.4" r="2.45"/><circle cx="356.5" cy="290.2" r="2.45"/><circle cx="358.1" cy="292.6" r="2.45"/><circle cx="355.7" cy="294.7" r="2.45"/><circle cx="351.6" cy="297.1" r="2.45"/><circle cx="354" cy="298.4" r="2.45"/><circle cx="358.9" cy="298" r="2.45"/><circle cx="361.4" cy="296.3" r="2.45"/><circle cx="363.9" cy="298" r="2.45"/><circle cx="365.5" cy="293.9" r="2.45"/><circle cx="367.1" cy="289.8" r="2.45"/><circle cx="368.8" cy="291.8" r="2.45"/><circle cx="370.4" cy="292.2" r="2.45"/><circle cx="372.9" cy="292.2" r="2.45"/><circle cx="375.3" cy="292.6" r="2.45"/><circle cx="377.8" cy="292.6" r="2.45"/><circle cx="380.2" cy="293" r="2.45"/><circle cx="384.3" cy="293.4" r="2.45"/><circle cx="348.3" cy="305.3" r="2.45"/><circle cx="349.9" cy="306.1" r="2.45"/><circle cx="355.7" cy="306.1" r="2.45"/><circle cx="360.6" cy="305.7" r="2.45"/><circle cx="362.6" cy="297.1" r="2.45"/><circle cx="346.6" cy="298.8" r="2.45"/><circle cx="366.1" cy="293.0" r="2.45"/><circle cx="367.4" cy="292.4" r="2.45"/><circle cx="370.0" cy="292.7" r="2.45"/><circle cx="371.2" cy="293.2" r="2.45"/><circle cx="373.7" cy="293.1" r="2.45"/><circle cx="374.9" cy="293.2" r="2.45"/><circle cx="376.8" cy="293.2" r="2.45"/><circle cx="379.2" cy="292.6" r="2.45"/><circle cx="381.2" cy="293.2" r="2.45"/><circle cx="382.7" cy="292.4" r="2.45"/><circle cx="318.6" cy="270.7" r="2.45"/><circle cx="319.1" cy="284.3" r="2.45"/><circle cx="323.6" cy="287.3" r="2.45"/><circle cx="327.7" cy="289.8" r="2.45"/><circle cx="325.1" cy="292.4" r="2.45"/><circle cx="321.6" cy="293.4" r="2.45"/><circle cx="320.1" cy="296.4" r="2.45"/><circle cx="322.1" cy="320.8" r="2.45"/><circle cx="319.4" cy="328.9" r="2.45"/><circle cx="318.8" cy="345.1" r="2.45"/><circle cx="319.4" cy="353.9" r="2.45"/><circle cx="318.8" cy="356.6" r="2.45"/><circle cx="319.4" cy="315.4" r="2.45"/><circle cx="320.1" cy="311.4" r="2.45"/><circle cx="325.5" cy="315.4" r="2.45"/><circle cx="329.6" cy="315.4" r="2.45"/><circle cx="435.4" cy="294.3" r="2.45"/><circle cx="435.9" cy="298.6" r="2.45"/><circle cx="434.8" cy="304.6" r="2.45"/><circle cx="433.7" cy="309" r="2.45"/><circle cx="435.4" cy="312.8" r="2.45"/><circle cx="440.8" cy="309.5" r="2.45"/><circle cx="451.2" cy="309.5" r="2.45"/><circle cx="443" cy="314.5" r="2.45"/><circle cx="457.7" cy="315.5" r="2.45"/><circle cx="433.7" cy="294.8" r="2.45"/><circle cx="437" cy="322.6" r="2.45"/><circle cx="441.4" cy="322.1" r="2.45"/><circle cx="445.7" cy="322.6" r="2.45"/><circle cx="480.1" cy="319.9" r="2.45"/><circle cx="434" cy="289.5" r="2.45"/><circle cx="436.0" cy="319.9" r="2.45"/><circle cx="437.6" cy="319.8" r="2.45"/><circle cx="439.6" cy="319.9" r="2.45"/><circle cx="441.9" cy="320.0" r="2.45"/><circle cx="444.5" cy="320.0" r="2.45"/><circle cx="446.2" cy="319.8" r="2.45"/><circle cx="448.1" cy="319.6" r="2.45"/><circle cx="450.0" cy="319.6" r="2.45"/><circle cx="452.7" cy="320.4" r="2.45"/><circle cx="454.1" cy="320.3" r="2.45"/><circle cx="457.0" cy="319.7" r="2.45"/><circle cx="458.9" cy="320.2" r="2.45"/><circle cx="460.6" cy="320.8" r="2.45"/><circle cx="462.5" cy="320.3" r="2.45"/><circle cx="464.9" cy="321.0" r="2.45"/><circle cx="466.5" cy="320.8" r="2.45"/><circle cx="469.0" cy="320.5" r="2.45"/><circle cx="470.7" cy="320.1" r="2.45"/><circle cx="472.3" cy="319.8" r="2.45"/><circle cx="474.4" cy="320.6" r="2.45"/><circle cx="476.7" cy="319.8" r="2.45"/><circle cx="478.5" cy="320.8" r="2.45"/><circle cx="491.7" cy="282.2" r="2.45"/><circle cx="491.7" cy="294.8" r="2.45"/><circle cx="491.7" cy="309.2" r="2.45"/><circle cx="491.7" cy="320" r="2.45"/><circle cx="491.7" cy="331.7" r="2.45"/><circle cx="499.8" cy="332.6" r="2.45"/><circle cx="497.1" cy="338.8" r="2.45"/><circle cx="492.6" cy="342.4" r="2.45"/><circle cx="498" cy="351.4" r="2.45"/><circle cx="525.9" cy="343.3" r="2.45"/><circle cx="495" cy="345" r="2.45"/><circle cx="503" cy="346" r="2.45"/><circle cx="493.4" cy="343.5" r="2.45"/><circle cx="494.8" cy="342.9" r="2.45"/><circle cx="496.9" cy="343.2" r="2.45"/><circle cx="498.8" cy="343.2" r="2.45"/><circle cx="501.0" cy="343.9" r="2.45"/><circle cx="503.9" cy="343.4" r="2.45"/><circle cx="505.1" cy="344.0" r="2.45"/><circle cx="507.2" cy="343.1" r="2.45"/><circle cx="508.9" cy="343.1" r="2.45"/><circle cx="511.6" cy="343.3" r="2.45"/><circle cx="513.3" cy="343.3" r="2.45"/><circle cx="515.1" cy="343.0" r="2.45"/><circle cx="517.3" cy="343.2" r="2.45"/><circle cx="519.3" cy="342.6" r="2.45"/><circle cx="521.7" cy="342.9" r="2.45"/><circle cx="524.1" cy="343.3" r="2.45"/><circle cx="437.5" cy="323.5" r="2.45"/><circle cx="439.3" cy="323.0" r="2.45"/><circle cx="443.0" cy="323.5" r="2.45"/><circle cx="446.6" cy="323.5" r="2.45"/><circle cx="449.2" cy="323.6" r="2.45"/><circle cx="452.4" cy="323.3" r="2.45"/><circle cx="454.5" cy="322.2" r="2.45"/><circle cx="457.3" cy="322.8" r="2.45"/><circle cx="460.2" cy="323.5" r="2.45"/><circle cx="464.1" cy="323.2" r="2.45"/><circle cx="467.3" cy="323.3" r="2.45"/><circle cx="470.0" cy="322.2" r="2.45"/><circle cx="437.5" cy="333.1" r="2.45"/><circle cx="434.5" cy="299" r="2.45"/><circle cx="436.5" cy="302" r="2.45"/><circle cx="434" cy="307" r="2.45"/><circle cx="437" cy="310" r="2.45"/><circle cx="439" cy="313" r="2.45"/><circle cx="436" cy="316" r="2.45"/><circle cx="442" cy="312.5" r="2.45"/><circle cx="446" cy="316.5" r="2.45"/><circle cx="449" cy="317" r="2.45"/><circle cx="493.6" cy="347.1" r="2.45"/><circle cx="496.2" cy="346.6" r="2.45"/><circle cx="499.8" cy="345.5" r="2.45"/><circle cx="503.1" cy="345.9" r="2.45"/><circle cx="505.0" cy="345.9" r="2.45"/><circle cx="509.6" cy="345.8" r="2.45"/><circle cx="512.8" cy="347.6" r="2.45"/><circle cx="515.5" cy="346.2" r="2.45"/><circle cx="518.7" cy="346.9" r="2.45"/><circle cx="522.5" cy="346.8" r="2.45"/><circle cx="492.5" cy="348" r="2.45"/><circle cx="494" cy="352" r="2.45"/><circle cx="496" cy="355" r="2.45"/><circle cx="499.5" cy="350" r="2.45"/><circle cx="493" cy="336" r="2.45"/><circle cx="496" cy="340" r="2.45"/><circle cx="500" cy="342" r="2.45"/><circle cx="504" cy="348" r="2.45"/></g>
<path d="M317.7,303.0 L384.2,303.0 L384.2,393.8 L433.7,393.8 L433.7,316.9 L478.6,316.9 L478.6,393.8 L491.0,393.8 L491.0,339.5 L525.6,339.5" fill="none" stroke="#f00" stroke-width="2.4"/>
<rect x="317.7" y="238.8" width="215.9" height="155.0" fill="none" stroke="#1a1a1a" stroke-width="1.2"/>
<line x1="317.7" y1="393.8" x2="317.7" y2="389.8" stroke="#1a1a1a" stroke-width="1.1"/>
<line x1="317.7" y1="238.8" x2="317.7" y2="242.8" stroke="#1a1a1a" stroke-width="1.1"/>
<text transform="translate(317.70,410.60) scale(0.92,1)" text-anchor="middle" font-size="16">0</text>
<line x1="346.5" y1="393.8" x2="346.5" y2="389.8" stroke="#1a1a1a" stroke-width="1.1"/>
<line x1="346.5" y1="238.8" x2="346.5" y2="242.8" stroke="#1a1a1a" stroke-width="1.1"/>
<text transform="translate(346.49,410.60) scale(0.92,1)" text-anchor="middle" font-size="16">1</text>
<line x1="375.3" y1="393.8" x2="375.3" y2="389.8" stroke="#1a1a1a" stroke-width="1.1"/>
<line x1="375.3" y1="238.8" x2="375.3" y2="242.8" stroke="#1a1a1a" stroke-width="1.1"/>
<text transform="translate(375.28,410.60) scale(0.92,1)" text-anchor="middle" font-size="16">2</text>
<line x1="404.1" y1="393.8" x2="404.1" y2="389.8" stroke="#1a1a1a" stroke-width="1.1"/>
<line x1="404.1" y1="238.8" x2="404.1" y2="242.8" stroke="#1a1a1a" stroke-width="1.1"/>
<text transform="translate(404.07,410.60) scale(0.92,1)" text-anchor="middle" font-size="16">3</text>
<line x1="432.9" y1="393.8" x2="432.9" y2="389.8" stroke="#1a1a1a" stroke-width="1.1"/>
<line x1="432.9" y1="238.8" x2="432.9" y2="242.8" stroke="#1a1a1a" stroke-width="1.1"/>
<text transform="translate(432.86,410.60) scale(0.92,1)" text-anchor="middle" font-size="16">4</text>
<line x1="461.6" y1="393.8" x2="461.6" y2="389.8" stroke="#1a1a1a" stroke-width="1.1"/>
<line x1="461.6" y1="238.8" x2="461.6" y2="242.8" stroke="#1a1a1a" stroke-width="1.1"/>
<text transform="translate(461.65,410.60) scale(0.92,1)" text-anchor="middle" font-size="16">5</text>
<line x1="490.4" y1="393.8" x2="490.4" y2="389.8" stroke="#1a1a1a" stroke-width="1.1"/>
<line x1="490.4" y1="238.8" x2="490.4" y2="242.8" stroke="#1a1a1a" stroke-width="1.1"/>
<text transform="translate(490.44,410.60) scale(0.92,1)" text-anchor="middle" font-size="16">6</text>
<line x1="519.2" y1="393.8" x2="519.2" y2="389.8" stroke="#1a1a1a" stroke-width="1.1"/>
<line x1="519.2" y1="238.8" x2="519.2" y2="242.8" stroke="#1a1a1a" stroke-width="1.1"/>
<text transform="translate(519.23,410.60) scale(0.92,1)" text-anchor="middle" font-size="16">7</text>
<line x1="317.7" y1="393.8" x2="321.7" y2="393.8" stroke="#1a1a1a" stroke-width="1.1"/>
<line x1="533.6" y1="393.8" x2="529.6" y2="393.8" stroke="#1a1a1a" stroke-width="1.1"/>
<text transform="translate(312.70,398.60) scale(0.93,1)" text-anchor="end" font-size="16.3">0</text>
<line x1="317.7" y1="359.6" x2="321.7" y2="359.6" stroke="#1a1a1a" stroke-width="1.1"/>
<line x1="533.6" y1="359.6" x2="529.6" y2="359.6" stroke="#1a1a1a" stroke-width="1.1"/>
<text transform="translate(312.70,364.35) scale(0.93,1)" text-anchor="end" font-size="16.3">20</text>
<line x1="317.7" y1="325.3" x2="321.7" y2="325.3" stroke="#1a1a1a" stroke-width="1.1"/>
<line x1="533.6" y1="325.3" x2="529.6" y2="325.3" stroke="#1a1a1a" stroke-width="1.1"/>
<text transform="translate(312.70,330.10) scale(0.93,1)" text-anchor="end" font-size="16.3">40</text>
<line x1="317.7" y1="291.1" x2="321.7" y2="291.1" stroke="#1a1a1a" stroke-width="1.1"/>
<line x1="533.6" y1="291.1" x2="529.6" y2="291.1" stroke="#1a1a1a" stroke-width="1.1"/>
<text transform="translate(312.70,295.85) scale(0.93,1)" text-anchor="end" font-size="16.3">60</text>
<line x1="317.7" y1="256.8" x2="321.7" y2="256.8" stroke="#1a1a1a" stroke-width="1.1"/>
<line x1="533.6" y1="256.8" x2="529.6" y2="256.8" stroke="#1a1a1a" stroke-width="1.1"/>
<text transform="translate(312.70,261.60) scale(0.93,1)" text-anchor="end" font-size="16.3">80</text>
<text transform="translate(277.90,227.80)" font-size="16">(d)</text>
<text transform="translate(65.00,86.80)" class="b" font-size="15.7">Test 1</text>
<text transform="translate(341.50,88.90)" class="b" font-size="15.7">Test 2</text>
<text transform="translate(58.50,293.40)" class="b" font-size="15.7">Test 3</text>
<text transform="translate(331.90,352.20)" class="b" font-size="15.7">Test 4</text>
<rect x="125.3" y="137" width="135.9" height="31.0" fill="#fff" fill-opacity="0.75"/>
<line x1="125.3" y1="136.5" x2="261.7" y2="136.5" stroke="#808080" stroke-width="1.2"/>
<line x1="261.7" y1="136.5" x2="261.7" y2="168.2" stroke="#808080" stroke-width="1.2"/>
<line x1="216.3" y1="168.2" x2="261.7" y2="168.2" stroke="#808080" stroke-width="1.2"/>
<circle cx="140.9" cy="145.3" r="3" fill="none" stroke="#5b6cf6" stroke-width="1"/>
<line x1="125.3" y1="161.8" x2="156.8" y2="161.8" stroke="#f00" stroke-width="2.2"/>
<text transform="translate(159.90,149.70)" font-size="12.9">Observed</text>
<text transform="translate(159.90,165.50)" font-size="12.9">Step approximation</text>
<rect x="402.2" y="145" width="128.8" height="29.8" fill="#fff" fill-opacity="0.6"/>
<line x1="401.7" y1="146.5" x2="401.7" y2="175.3" stroke="#555" stroke-width="1.2"/>
<line x1="401.7" y1="175.3" x2="510" y2="175.3" stroke="#555" stroke-width="1.2"/>
<line x1="510.4" y1="144.5" x2="530.4" y2="144.5" stroke="#222" stroke-width="1.2"/>
<circle cx="417.1" cy="152.8" r="3" fill="none" stroke="#5b6cf6" stroke-width="1"/>
<line x1="401.7" y1="168.7" x2="432.3" y2="168.7" stroke="#f00" stroke-width="2.2"/>
<text transform="translate(434.80,157.20)" font-size="12.4">Observed</text>
<text transform="translate(434.80,172.50)" font-size="12.4">Step approximation</text>
<line x1="133.8" y1="351.4" x2="218.9" y2="351.4" stroke="#808080" stroke-width="1.2"/>
<line x1="133.8" y1="351.4" x2="133.8" y2="381" stroke="#808080" stroke-width="1.2"/>
<line x1="133.8" y1="381" x2="262.5" y2="381" stroke="#808080" stroke-width="1.2"/>
<line x1="262.5" y1="368.3" x2="262.5" y2="381" stroke="#808080" stroke-width="1.2"/>
<circle cx="148.4" cy="360.3" r="3" fill="none" stroke="#5b6cf6" stroke-width="1"/>
<line x1="133.8" y1="376" x2="163.6" y2="376" stroke="#f00" stroke-width="2.2"/>
<text transform="translate(166.30,364.70)" font-size="12.25">Observed</text>
<text transform="translate(166.30,380.30)" font-size="12.25">Step approximation</text>
<rect x="329" y="253" width="123.8" height="19.8" fill="#fff" fill-opacity="0.85"/>
<line x1="328.5" y1="252.1" x2="328.5" y2="273.3" stroke="#6a6a6a" stroke-width="1.2"/>
<line x1="328.5" y1="273.3" x2="453.3" y2="273.3" stroke="#3a3a3a" stroke-width="1.2"/>
<line x1="453.3" y1="252.1" x2="453.3" y2="273.3" stroke="#555" stroke-width="1.2"/>
<circle cx="343.8" cy="251.7" r="3" fill="none" stroke="#5b6cf6" stroke-width="1"/>
<line x1="328.7" y1="267.4" x2="358.8" y2="267.4" stroke="#f00" stroke-width="2.2"/>
<text transform="translate(358.20,255.30)" font-size="12.3">Observed</text>
<text transform="translate(358.20,271.00)" font-size="12.3">Step approximation</text>
<text transform="translate(102.60,218.80)" font-size="15.5">Pumping time <tspan font-style="italic">t</tspan> (d)</text>
<text transform="translate(375.00,218.80)" font-size="15.5">Pumping time <tspan font-style="italic">t</tspan> (d)</text>
<text transform="translate(102.30,430.60)" font-size="15.5">Pumping time <tspan font-style="italic">t</tspan> (d)</text>
<text transform="translate(367.00,430.80)" font-size="15.5">Pumping time <tspan font-style="italic">t</tspan> (d)</text>
<text transform="translate(26.9,177.6) rotate(-90)" font-size="16">Pumping rate <tspan font-style="italic">Q</tspan> (m<tspan dx="0.3" dy="-6.6" font-size="9.8">3</tspan><tspan dy="6.6">/d)</tspan></text>
<text transform="translate(292.5,177.3) rotate(-90)" font-size="16">Pumping rate <tspan font-style="italic">Q</tspan> (m<tspan dx="0.3" dy="-6.6" font-size="9.8">3</tspan><tspan dy="6.6">/d)</tspan></text>
<text transform="translate(27.7,388.4) rotate(-90)" font-size="16">Pumping rate <tspan font-style="italic">Q</tspan> (m<tspan dx="0.3" dy="-6.6" font-size="9.8">3</tspan><tspan dy="6.6">/d)</tspan></text>
<text transform="translate(291.9,389.2) rotate(-90)" font-size="16">Pumping rate <tspan font-style="italic">Q</tspan> (m<tspan dx="0.3" dy="-6.6" font-size="9.8">3</tspan><tspan dy="6.6">/d)</tspan></text></svg>
</body></html>
